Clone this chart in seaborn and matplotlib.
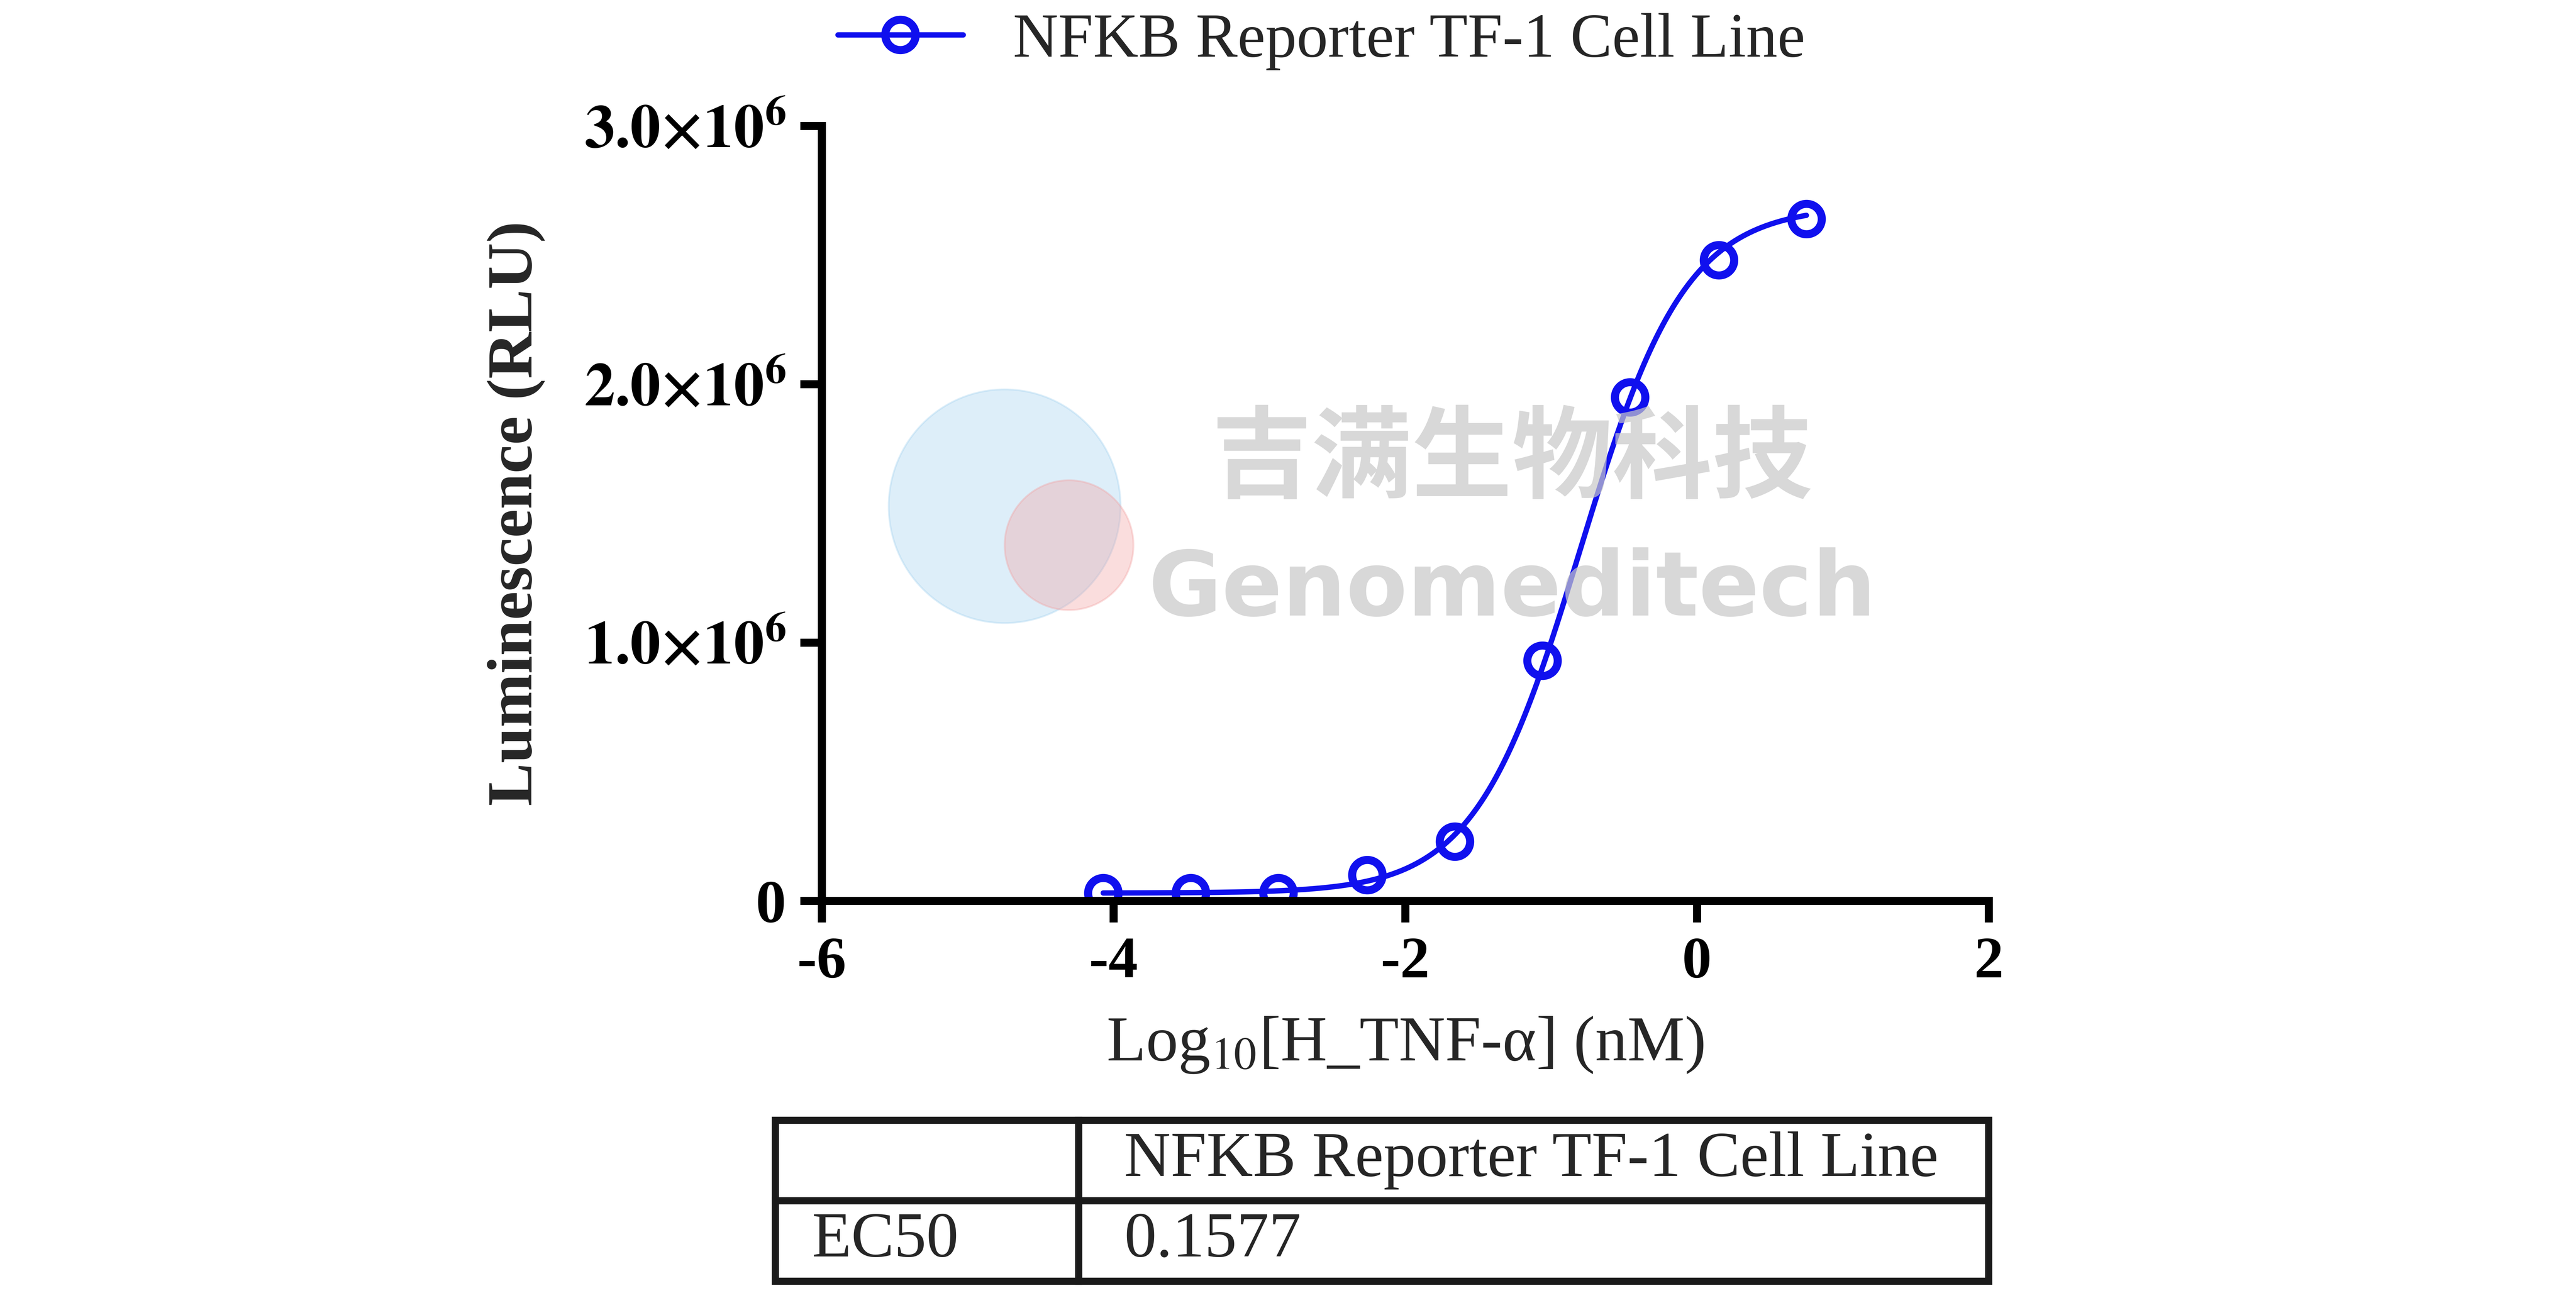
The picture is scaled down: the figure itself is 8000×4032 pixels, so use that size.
import numpy as np
import matplotlib.pyplot as plt
import seaborn as sns
import pandas as pd
from matplotlib.patches import Ellipse

log_conc = [-4.07, -3.47, -2.87, -2.26, -1.66, -1.06, -0.46, 0.15, 0.75]
rlu = [0.03e6, 0.03e6, 0.03e6, 0.10e6, 0.23e6, 0.93e6, 1.95e6, 2.48e6, 2.64e6]
# 4PL fit parameters
bottom, top, log_ec50, hill = 0.03e6, 2.69e6, -0.80, 1.2
series_name = "NFKB Reporter TF-1 Cell Line"
ec50_text = "0.1577"

sns.set_theme(style="ticks")
plt.rcParams['font.family'] = ['Liberation Serif', 'DejaVu Serif']
plt.rcParams['mathtext.fontset'] = 'stix'

fig = plt.figure(figsize=(20, 10.08), dpi=400)
ax = fig.add_axes([0.319, 0.306, 0.453, 0.597])

# watermark
fig.text(0.587, 0.645, "吉满生物科技", family=['Noto Sans CJK SC'], fontsize=56,
         fontweight='bold', color='#c8c8c8', alpha=0.7, ha='center', va='center')
fig.text(0.587, 0.545, "Genomeditech", family=['DejaVu Sans'], fontsize=50,
         fontweight='bold', color='#c8c8c8', alpha=0.7, ha='center', va='center')
fig.patches.append(Ellipse((0.39, 0.61), 0.09, 0.18, transform=fig.transFigure,
                           color='#9fd0ee', alpha=0.35, figure=fig))
fig.patches.append(Ellipse((0.415, 0.58), 0.05, 0.1, transform=fig.transFigure,
                           color='#f3a0a0', alpha=0.35, figure=fig))

xs = np.linspace(min(log_conc), max(log_conc), 300)
ys = bottom + (top - bottom) / (1 + 10 ** ((log_ec50 - xs) * hill))
blue = '#1010ee'
sns.lineplot(x=xs, y=ys, ax=ax, color=blue, lw=3)
df = pd.DataFrame({'x': log_conc, 'y': rlu})
ax.plot(df.x, df.y, 'o', mfc='none', mec=blue, mew=4.5, ms=17)
ax.plot([], [], '-o', color=blue, mfc='none', mew=4.5, ms=17, lw=3, label=series_name)

ax.set_xlim(-6, 2)
ax.set_ylim(0, 3.0e6)
ax.set_xticks([-6, -4, -2, 0, 2])
ax.set_xticklabels(['-6', '-4', '-2', '0', '2'], fontsize=33, fontweight='bold')
ax.set_yticks([0, 1e6, 2e6, 3e6])
ax.set_yticklabels(['0', r'$\mathbf{1.0{\times}10^6}$', r'$\mathbf{2.0{\times}10^6}$',
                    r'$\mathbf{3.0{\times}10^6}$'], fontsize=34, fontweight='bold')
for s in ['top', 'right']:
    ax.spines[s].set_visible(False)
for s in ['left', 'bottom']:
    ax.spines[s].set_linewidth(4.5)
    ax.spines[s].set_color('black')
ax.tick_params(width=4.5, length=12, colors='black', pad=8)
ax.set_ylabel('Luminescence (RLU)', fontsize=36, fontweight='bold', labelpad=22)
ax.set_xlabel(r'Log$_{10}$[H_TNF-α] (nM)', fontsize=36, labelpad=14)
h, l = ax.get_legend_handles_labels()
fig.legend(h, l, loc='center', bbox_to_anchor=(0.513, 0.968), frameon=False,
           fontsize=35, handlelength=2.0, borderaxespad=0, borderpad=0)

tax = fig.add_axes([0.301, 0.013, 0.471, 0.124])
tax.axis('off')
tbl = tax.table(cellText=[['', series_name], ['EC50', ec50_text]],
                cellLoc='left', bbox=[0, 0, 1, 1], colWidths=[0.25, 0.75])
tbl.auto_set_font_size(False)
for (r, c), cell in tbl.get_celld().items():
    cell.set_linewidth(4)
    cell.get_text().set_fontsize(36)
    cell.PAD = 0.05 if c == 1 else 0.12

fig.savefig('out.png', dpi=400)
